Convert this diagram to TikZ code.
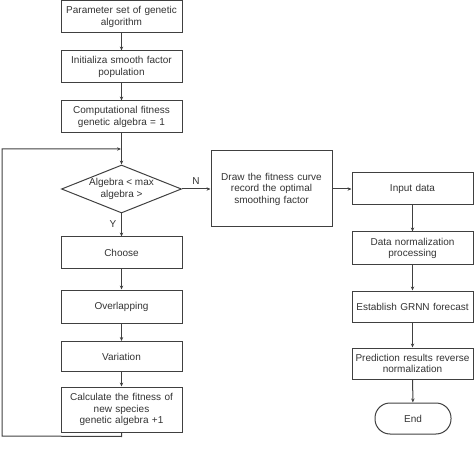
\documentclass[tikz,border=0pt]{standalone}
\usepackage{fontspec}
\setmainfont{Liberation Sans}
\usetikzlibrary{shapes.geometric,arrows.meta,calc}
\begin{document}
\begin{tikzpicture}[x=1pt,y=-1pt,
  every node/.style={font=\fontsize{10}{11.5}\selectfont, text=black!80},
  box/.style={draw=black!75, line width=1pt, rectangle, minimum width=121pt, inner sep=1pt, align=center, text width=119pt},
  dia/.style={draw=black!75, line width=1pt, diamond, aspect=2.5, inner sep=0pt, minimum width=120pt, minimum height=48pt, align=center},
  term/.style={draw=black!75, line width=1pt, rectangle, rounded corners=15pt, minimum width=76pt, minimum height=31pt},
  arr/.style={draw=black!75, line width=1pt, -{Stealth[length=4pt,width=3.4pt]}},
  lbl/.style={inner sep=0pt}]
\useasboundingbox (0,0) rectangle (474,457);
% left column
\node[box, minimum height=32pt] (b1) at (121.5,17) {Parameter set of genetic\\algorithm};
\node[box, minimum height=32pt] (b2) at (121.5,67) {Initializa smooth factor\\population};
\node[box, minimum height=32pt] (b3) at (121.5,117) {Computational fitness\\genetic algebra = 1};
\node[dia] (d) at (121.5,189) {Algebra < max\\algebra >};
\node[box, minimum height=32pt] (ch) at (121.5,253) {Choose};
\node[box, minimum height=33pt] (ov) at (121.5,306.5) {Overlapping};
\node[box, minimum height=30pt] (va) at (121.5,356.5) {Variation};
\node[box, minimum height=45pt] (ca) at (121.5,409.5) {Calculate the fitness of\\new species\\genetic algebra +1};
% middle
\node[box, minimum height=76pt] (dr) at (271.5,189) {Draw the fitness curve\\record the optimal\\smoothing factor};
% right column
\node[box, minimum height=32pt] (in) at (412.5,189) {Input data};
\node[box, minimum height=33pt] (dn) at (412.5,248.5) {Data normalization\\processing};
\node[box, minimum height=31pt] (es) at (412.5,306.5) {Establish GRNN forecast};
\node[box, minimum height=31pt] (pr) at (412.5,363.5) {Prediction results reverse\\normalization};
\node[term] (en) at (413,418.5) {End};
% labels
\node[lbl] (ln) at (196,181) {N};
\node[lbl] (ly) at (113,224) {Y};
% connectors
\draw[arr] (b1) -- (b2);
\draw[arr] (b2) -- (b3);
\draw[arr] (b3) -- (d);
\draw[arr] (d) -- (ch);
\draw[arr] (ch) -- (ov);
\draw[arr] (ov) -- (va);
\draw[arr] (va) -- (ca);
\draw[arr] (d.east) -- (dr.west);
\draw[arr] (dr.east) -- (in.west);
\draw[arr] (in) -- (dn);
\draw[arr] (dn) -- (es);
\draw[arr] (es) -- (pr);
\draw[arr] (pr) -- (en);
% loop
\coordinate (lb) at ($(ca.south)+(0,4)$);
\coordinate (c1) at (2,436);
\coordinate (c2) at (2,149);
\coordinate (lj) at (121.5,149);
\draw[arr] (ca.south) -- (lb) -- (c1) -- (c2) -- ($(lj)+(-0.5,0)$);
\end{tikzpicture}
\end{document}
